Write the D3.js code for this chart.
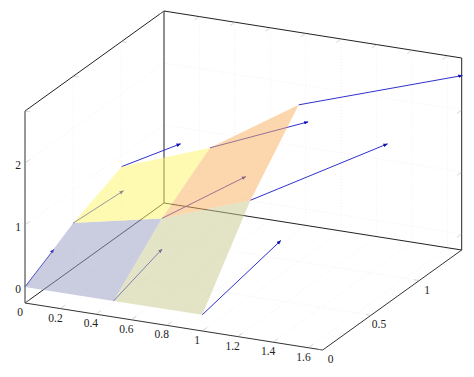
<!DOCTYPE html>
<html>
<head>
<meta charset="utf-8">
<script src="https://cdn.jsdelivr.net/npm/d3@7"></script>
<style>
  html, body { margin: 0; padding: 0; background: #fff; }
  text { font-family: "Liberation Serif", serif; font-size: 11.5px; fill: #222; }
</style>
</head>
<body>
<svg id="chart" width="474" height="377"></svg>
<script>
const xGrid = [0, 0.5, 1];
const yGrid = [0, 0.5, 1];
// rows are y, columns are x
const zValues = [
  [0, 0, 0],
  [0.47, 0.77, 1.29],
  [0.82, 1.35, 2.27]
];
const uValues = [
  [0, 0.11, 0.28],
  [0.12, 0.31, 0.61],
  [0.17, 0.39, 0.76]
];
const vValue = 0.3;
const wValues = [
  [0.27, 0.55, 0.99],
  [0.24, 0.48, 0.85],
  [0.11, 0.26, 0.48]
];
const patchColors = ["#9a9dc4", "#c9cb90", "#fdf56a", "#fab060"];
const xTicks = [0, 0.2, 0.4, 0.6, 0.8, 1, 1.2, 1.4, 1.6];
const yTicks = [0, 0.5, 1];
const zTicks = [0, 1, 2];
const xLimits = [0, 1.68];
const yLimits = [0, 1.44];
const zLimits = [-0.26, 2.84];

const svg = d3.select("#chart");

// each data axis gets its own pixel scale, the box is then a plain sum of them
const xToPx = d3.scaleLinear().domain(xLimits).range([0, 297.7]);
const xToPy = d3.scaleLinear().domain(xLimits).range([0, 47]);
const yToPx = d3.scaleLinear().domain(yLimits).range([0, 139]);
const yToPy = d3.scaleLinear().domain(yLimits).range([0, -100]);
const zToPy = d3.scaleLinear().domain(zLimits).range([303, 111]);

const project = (x, y, z) => [
  25 + xToPx(x) + yToPx(y),
  zToPy(z) + xToPy(x) + yToPy(y)
];
const line = d3.line();
const [x0, x1] = xLimits;
const [y0, y1] = yLimits;
const [z0, z1] = zLimits;

// --- GRID ---
const grid = svg.append("g")
  .attr("fill", "none")
  .attr("stroke", "#e2e2e2")
  .attr("stroke-width", 0.5)
  .attr("stroke-dasharray", "1 2");
const gridLines = [];
xTicks.forEach(t => {
  gridLines.push([[t, y0, z0], [t, y1, z0]]);
  gridLines.push([[t, y1, z0], [t, y1, z1]]);
});
yTicks.forEach(t => {
  gridLines.push([[x0, t, z0], [x1, t, z0]]);
  gridLines.push([[x0, t, z0], [x0, t, z1]]);
});
zTicks.forEach(t => {
  gridLines.push([[x0, y0, t], [x0, y1, t]]);
  gridLines.push([[x0, y1, t], [x1, y1, t]]);
});
grid.selectAll("path")
  .data(gridLines)
  .join("path")
  .attr("d", d => line(d.map(p => project(...p))));

// --- BACK OF THE BOX ---
const backEdges = [
  [[x0, y1, z0], [x0, y1, z1]],
  [[x0, y1, z0], [x1, y1, z0]],
  [[x0, y0, z0], [x0, y1, z0]],
  [[x1, y1, z0], [x1, y1, z1]],
  [[x0, y0, z1], [x0, y1, z1]],
  [[x0, y1, z1], [x1, y1, z1]]
];
svg.append("g")
  .attr("fill", "none")
  .attr("stroke", "#222")
  .attr("stroke-width", 1)
  .selectAll("path")
  .data(backEdges)
  .join("path")
  .attr("d", d => line(d.map(p => project(...p))));

// --- ARROWS ---
svg.append("defs").append("marker")
  .attr("id", "head")
  .attr("viewBox", "0 0 6 6")
  .attr("refX", 5.5)
  .attr("refY", 3)
  .attr("markerUnits", "userSpaceOnUse")
  .attr("markerWidth", 4.5)
  .attr("markerHeight", 4.5)
  .attr("orient", "auto")
  .append("path")
  .attr("d", "M0,0.6L6,3L0,5.4Z")
  .attr("fill", "#1010b0");

const arrows = [];
yGrid.forEach((y, j) => xGrid.forEach((x, i) => {
  arrows.push({
    from: [x, y, zValues[j][i]],
    to: [x + uValues[j][i], y + vValue, zValues[j][i] + wValues[j][i]]
  });
}));
svg.append("g")
  .selectAll("path")
  .data(arrows)
  .join("path")
  .attr("d", d => line([project(...d.from), project(...d.to)]))
  .attr("fill", "none")
  .attr("stroke", "#3030d0")
  .attr("stroke-width", 1)
  .attr("marker-end", "url(#head)");

// --- PATCHES ---
const patches = [];
d3.range(2).forEach(j => d3.range(2).forEach(i => {
  patches.push({
    color: patchColors[j * 2 + i],
    corners: [[i, j], [i + 1, j], [i + 1, j + 1], [i, j + 1]]
      .map(([a, b]) => [xGrid[a], yGrid[b], zValues[b][a]])
  });
}));
svg.append("g")
  .selectAll("path")
  .data(patches)
  .join("path")
  .attr("d", d => line(d.corners.map(p => project(...p))) + "Z")
  .attr("fill", d => d.color)
  .attr("fill-opacity", 0.52);

// --- FRONT OF THE BOX ---
const frontEdges = [
  [[x0, y0, z0], [x1, y0, z0]],
  [[x1, y0, z0], [x1, y1, z0]],
  [[x0, y0, z0], [x0, y0, z1]]
];
svg.append("g")
  .attr("fill", "none")
  .attr("stroke", "#333")
  .attr("stroke-width", 1)
  .selectAll("path")
  .data(frontEdges)
  .join("path")
  .attr("d", d => line(d.map(p => project(...p))));

// --- TICK MARKS ---
const tickMarks = [];
xTicks.forEach(t => {
  tickMarks.push([[t, y0, z0], [t, y0 + 0.05, z0]]);
  tickMarks.push([[t, y1, z1], [t, y1 - 0.05, z1]]);
});
yTicks.forEach(t => {
  tickMarks.push([[x1, t, z0], [x1 - 0.03, t, z0]]);
  tickMarks.push([[x0, t, z1], [x0 + 0.03, t, z1]]);
});
zTicks.forEach(t => {
  tickMarks.push([[x0, y0, t], [x0, y0 + 0.05, t]]);
  tickMarks.push([[x1, y1, t], [x1, y1 - 0.05, t]]);
});
svg.append("g")
  .attr("stroke", "#aaa")
  .attr("stroke-width", 0.5)
  .selectAll("path")
  .data(tickMarks)
  .join("path")
  .attr("d", d => line(d.map(p => project(...p))));

// --- TICK LABELS ---
const labels = svg.append("g").attr("text-anchor", "middle");
labels.selectAll(".x")
  .data(xTicks)
  .join("text")
  .attr("x", d => project(d, y0, z0)[0] - 5)
  .attr("y", d => project(d, y0, z0)[1] + 13)
  .text(d => d);
labels.selectAll(".y")
  .data(yTicks)
  .join("text")
  .attr("x", d => project(x1, d, z0)[0] + 8)
  .attr("y", d => project(x1, d, z0)[1] + 13)
  .text(d => d);
labels.selectAll(".z")
  .data(zTicks)
  .join("text")
  .attr("x", d => project(x0, y0, d)[0] - 7)
  .attr("y", d => project(x0, y0, d)[1] + 6)
  .text(d => d);
</script>
</body>
</html>
